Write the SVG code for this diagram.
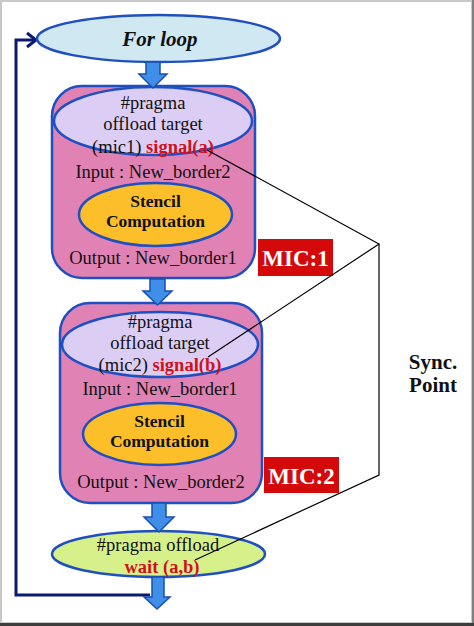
<svg xmlns="http://www.w3.org/2000/svg" width="474" height="626" viewBox="0 0 474 626">
<defs>
<style>
.serif{font-family:"Liberation Serif","Times New Roman",serif;}
.t{font-size:18.5px;fill:#111;text-anchor:middle;}
.red{fill:#d0101a;font-weight:bold;}
.b{font-weight:bold;}
.blk{fill:#3f8fe8;stroke:#1a4fb0;stroke-width:1.5;stroke-linejoin:miter;}
.box{fill:#e083b4;stroke:#1f4fc0;stroke-width:2.5;}
.pragma{fill:#dccdf5;stroke:#1f4fc0;stroke-width:2.5;}
.stencil{fill:#fcbf2a;stroke:#1f4fc0;stroke-width:2.5;}
.mic{fill:#d40a0a;}
.mict{font-size:23px;font-weight:bold;fill:#fff;text-anchor:middle;}
.sync{fill:none;stroke:#000;stroke-width:1.2;}
.loop{fill:none;stroke:#0a1a6e;stroke-width:3;}
.st{font-size:17.5px;font-weight:bold;fill:#111;text-anchor:middle;}
.sp{font-size:21px;font-weight:bold;fill:#111;text-anchor:middle;}
</style>
</defs>
<rect x="0" y="0" width="474" height="626" fill="#fff"/>
<rect x="1" y="1" width="471" height="622" fill="none" stroke="#c8c8c8" stroke-width="2"/>
<rect x="472" y="0" width="2" height="626" fill="#808080"/>
<rect x="0" y="623" width="474" height="3" fill="#3c3c3c"/>

<g id="flow-connectors">
<path class="loop" d="M150,595 H16 V40 H34"/>
<path class="loop" d="M27,33 L36,40 L27,47"/>
</g>

<g id="forloop">
<ellipse cx="158.5" cy="38.5" rx="121.5" ry="23.5" fill="#cfe8f2" stroke="#1f4fc0" stroke-width="2.5"/>
<text class="serif b" x="160" y="46" font-size="21" font-style="italic" text-anchor="middle" fill="#111">For loop</text>
</g>

<g id="mic1">
<rect class="box" x="52" y="86" width="203" height="192" rx="30"/>
<ellipse class="pragma" cx="153" cy="121" rx="99" ry="34"/>
<text class="serif t" x="153" y="109">#pragma</text>
<text class="serif t" x="153" y="130">offload target</text>
<text class="serif t" x="153" y="153">(mic1) <tspan class="red">signal(a)</tspan></text>
<text class="serif t" x="153" y="178">Input : New_border2</text>
<ellipse class="stencil" cx="155.5" cy="214.5" rx="76.5" ry="31.5"/>
<text class="serif st" x="155.5" y="207">Stencil</text>
<text class="serif st" x="155.5" y="227">Computation</text>
<text class="serif t" x="153" y="264">Output : New_border1</text>
</g>
<g id="mic1label">
<rect class="mic" x="258" y="239" width="75" height="37"/>
<text class="serif mict" x="295.5" y="266">MIC:1</text>
</g>

<g id="mic2">
<rect class="box" x="60" y="303" width="202" height="200" rx="30"/>
<ellipse class="pragma" cx="160" cy="344.5" rx="98" ry="32.5"/>
<text class="serif t" x="160" y="328">#pragma</text>
<text class="serif t" x="160" y="349">offload target</text>
<text class="serif t" x="160" y="371">(mic2) <tspan class="red">signal(b)</tspan></text>
<text class="serif t" x="160" y="395">Input : New_border1</text>
<ellipse class="stencil" cx="159.5" cy="434" rx="76.5" ry="31"/>
<text class="serif st" x="159.5" y="427">Stencil</text>
<text class="serif st" x="159.5" y="447">Computation</text>
<text class="serif t" x="161" y="488">Output : New_border2</text>
</g>
<g id="mic2label">
<rect class="mic" x="264" y="457" width="75" height="36"/>
<text class="serif mict" x="301.5" y="484">MIC:2</text>
</g>

<g id="wait">
<ellipse cx="158.5" cy="554" rx="106.5" ry="23" fill="#d6f08a" stroke="#1f4fc0" stroke-width="2.5"/>
<text class="serif t" x="158" y="551">#pragma offload</text>
<text class="serif t red" x="162" y="573">wait (a,b)</text>
</g>

<g id="connectors">
<path class="blk" d="M146,62 H160 V74 H167 L153,88 L139,74 H146 Z"/>
<path class="blk" d="M150,279 H165 V291 H172 L157.5,305 L143,291 H150 Z"/>
<path class="blk" d="M152,503 H166 V517 H174 L159,532 L144,517 H152 Z"/>
<path class="blk" d="M152,577 H164 V597 H170 L157,609 L144,597 H152 Z"/>
<path class="sync" d="M207,150 L379,244 L208,357"/>
<path class="sync" d="M379,244 V475 L195,560"/>
</g>

<g id="sync">
<text class="serif sp" x="433" y="369">Sync.</text>
<text class="serif sp" x="433" y="392">Point</text>
</g>
</svg>
